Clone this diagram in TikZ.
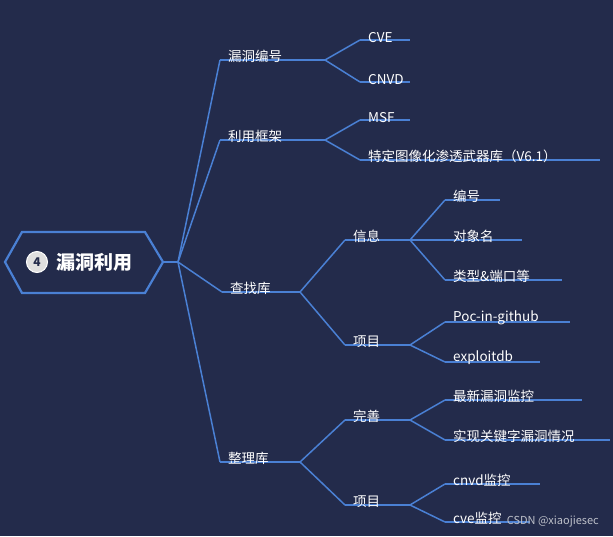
\documentclass[tikz,border=0pt]{standalone}
\usepackage{fontspec}
\setmainfont{Noto Sans CJK SC}
\definecolor{bg}{HTML}{232B4B}
\definecolor{ln}{HTML}{4A80D4}
\begin{document}
\begin{tikzpicture}[x=1pt,y=-1pt,
  conn/.style={ln,line width=1.5pt},
  lbl/.style={text=white,font=\fontsize{13.5}{15}\selectfont,anchor=south west,inner sep=1pt}]
\fill[bg] (0,0) rectangle (613,536);
\useasboundingbox (0,0) rectangle (613,536);
% root
\draw[ln,line width=2.2pt,fill=bg] (5,262)--(22,232)--(145,232)--(163,262)--(145,293)--(22,293)--cycle;
\node[circle,fill=white!75!gray,draw=white,line width=1pt,minimum size=21pt,inner sep=0pt,text=bg,font=\bfseries\fontsize{12}{12}\selectfont] (num) at (37,262) {4};
\node[text=white,font=\bfseries\fontsize{19}{21}\selectfont,anchor=west] (root) at (53,262) {漏洞利用};
\coordinate (r0) at (163,262);
\coordinate (r1) at (178,262);
\draw[conn] (r0)--(r1);
\newcommand{\br}[5]{%
  \coordinate (#1s) at (#2,#4); \coordinate (#1e) at (#3,#4);
  \draw[conn] (#1s)--(#1e);
  \node[lbl] (#1t) at ([xshift=7pt,yshift=-4pt]#1s) {#5};}
\br{a}{220}{325}{60}{漏洞编号}
\br{b}{220}{325}{140}{利用框架}
\br{c}{222}{300}{292}{查找库}
\br{d}{220}{300}{462}{整理库}
\foreach \n in {a,b,c,d} \draw[conn] (r1)--(\n s);
\br{a1}{360}{410}{40}{CVE}
\br{a2}{360}{410}{82}{CNVD}
\br{b1}{360}{410}{120}{MSF}
\br{b2}{360}{600}{160}{特定图像化渗透武器库（V6.1）}
\br{c1}{345}{410}{240}{信息}
\br{c2}{345}{410}{345}{项目}
\br{d1}{345}{410}{420}{完善}
\br{d2}{345}{410}{505}{项目}
\foreach \p/\k in {a/a1,a/a2,b/b1,b/b2,c/c1,c/c2,d/d1,d/d2} \draw[conn] (\p e)--(\k s);
\br{e1}{445}{500}{200}{编号}
\br{e2}{445}{522}{240}{对象名}
\br{e3}{445}{562}{280}{类型\&端口等}
\br{f1}{445}{570}{322}{Poc-in-github}
\br{f2}{445}{540}{362}{exploitdb}
\br{g1}{445}{582}{400}{最新漏洞监控}
\br{g2}{445}{610}{440}{实现关键字漏洞情况}
\br{h1}{445}{540}{484}{cnvd监控}
\br{h2}{445}{530}{522}{cve监控}
\foreach \p/\k in {c1/e1,c1/e2,c1/e3,c2/f1,c2/f2,d1/g1,d1/g2,d2/h1,d2/h2} \draw[conn] (\p e)--(\k s);
\node[text=white!70!bg,font=\fontsize{11}{12}\selectfont,anchor=south east,inner sep=1pt] (wm) at (600,528) {CSDN @xiaojiesec};
\end{tikzpicture}
\end{document}
